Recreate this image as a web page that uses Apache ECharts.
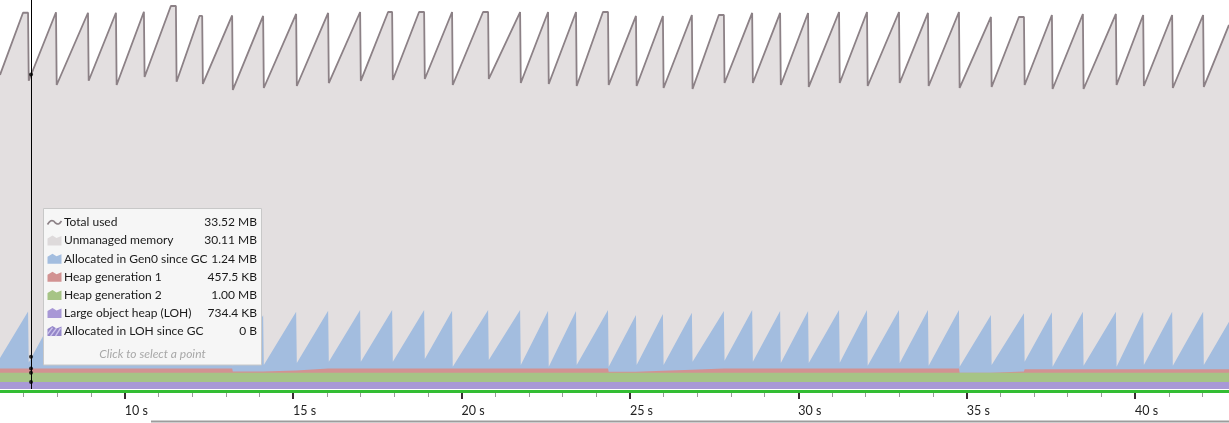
<!DOCTYPE html>
<html><head><meta charset="utf-8">
<script src="https://cdn.jsdelivr.net/npm/echarts@6/dist/echarts.min.js"></script>
<style>html,body{margin:0;padding:0;background:#fff;overflow:hidden}#c{width:1229px;height:423px}</style>
</head><body><div id="c"></div><script>
// ---- time range (seconds) ----
const T_MIN = 6.297, T_MAX = 42.788;
// ---- GC moments (s) : each sawtooth drop ----
const gcTimes = [7.13, 7.96, 8.91, 9.74, 10.57, 11.52, 12.30, 13.19, 14.11, 15.09,
  16.04, 16.99, 17.94, 18.89, 19.72, 20.79, 21.74, 22.57, 23.40, 24.35,
  25.18, 25.98, 26.84, 27.79, 28.63, 29.46, 30.29, 31.21, 32.04, 32.99,
  33.85, 34.77, 35.72, 36.70, 37.53, 38.45, 39.43, 40.24, 41.10, 42.02];
// ---- Total used (MB) ----
const totalStart = 33.48, totalEnd = 38.81;
const totalPeak = [40.11, 40.16, 40.11, 40.11, 40.22, 40.83, 39.77, 39.82, 39.77, 39.98,
  40.09, 40.19, 40.19, 40.19, 40.19, 40.19, 40.19, 40.19, 40.19, 40.19,
  39.77, 39.77, 39.87, 39.87, 40.09, 40.09, 40.09, 40.19, 40.19, 40.19,
  40.09, 40.19, 39.66, 39.66, 39.87, 39.98, 39.98, 39.87, 39.87, 39.87];
const totalValley = [32.86, 32.41, 32.86, 32.41, 33.26, 32.76, 32.52, 31.88, 32.09, 32.30,
  32.62, 32.84, 32.94, 33.05, 32.41, 33.05, 32.62, 32.52, 32.30, 32.41,
  32.30, 32.09, 31.98, 32.62, 32.62, 32.41, 32.20, 32.62, 32.30, 32.62,
  32.30, 32.09, 32.20, 32.41, 31.98, 31.98, 32.41, 32.30, 32.09, 32.20];
const plateau = [0.15, 0, 0, 0, 0, 0.15, 0.08, 0, 0, 0,
  0, 0, 0.12, 0.15, 0, 0.15, 0, 0, 0, 0.15,
  0, 0, 0, 0.15, 0, 0, 0, 0, 0, 0,
  0, 0, 0, 0.15, 0, 0, 0, 0, 0, 0];
// ---- Allocated in Gen0 since GC (MB): start, peak per cycle (41), valley after each GC (40) ----
const gen0Start = 1.12;
const gen0Peak = [6.06, 6.0, 6.1, 6.05, 6.15, 6.0, 6.1, 6.1, 6.0, 6.26,
  6.16, 6.24, 6.24, 6.24, 6.16, 6.24, 6.24, 6.16, 6.12, 6.24,
  6.06, 6.06, 6.08, 6.12, 6.23, 6.12, 6.12, 6.23, 6.23, 6.23,
  6.23, 6.23, 6.15, 6.19, 6.08, 6.14, 6.14, 6.14, 6.14, 6.14, 5.08];
const gen0Valley = [0.62, 0.6, 0.5, 0.7, 0.5, 0.6, 0.6, 0.6, 0.58, 0.59,
  0.72, 0.72, 0.72, 1.01, 0.19, 0.91, 0.37, 0.19, 0.37, 0.54,
  0.62, 0.5, 0.71, 0.82, 0.71, 0.58, 0.58, 0.6, 0.29, 0.54,
  0.29, 0.64, 0.68, 0.81, 0.28, 0.38, 0.28, 0.46, 0.38, 0.46];
// ---- Heap generation 1 per cycle (MB) ----
const gen1 = [0.46, 0.46, 0.46, 0.46, 0.46, 0.46, 0.46, 0.46, 0.14, 0.25,
  0.45, 0.45, 0.45, 0.45, 0.45, 0.45, 0.45, 0.45, 0.45, 0.45,
  0.1, 0.2, 0.32, 0.46, 0.46, 0.46, 0.46, 0.46, 0.46, 0.46,
  0.46, 0.46, 0, 0.14, 0.36, 0.36, 0.36, 0.36, 0.36, 0.36, 0.36];
const gen2 = 1.00;
const loh = 0.7344;
// ---- axis ticks ----
const minorTicks = [7, 8, 9, 10, 11, 12, 13, 14, 15, 16, 17, 18, 19, 20, 21, 22, 23, 24,
  25, 26, 27, 28, 29, 30, 31, 32, 33, 34, 35, 36, 37, 38, 39, 40, 41, 42];
const majorTicks = [10, 15, 20, 25, 30, 35, 40];
// ---- hover point ----
const cursorTime = 7.218;
const tipNames = ['Total used', 'Unmanaged memory', 'Allocated in Gen0 since GC', 'Heap generation 1',
  'Heap generation 2', 'Large object heap (LOH)', 'Allocated in LOH since GC'];
const tipValues = ['33.52 MB', '30.11 MB', '1.24 MB', '457.5 KB', '1.00 MB', '734.4 KB', '0 B'];
const cursorMB = [33.52, 30.11, 1.24, 0.4575, 1.00, 0.7344, 0];

const C = {
  total: '#8c8186', unmanaged: '#e3dfe0', gen0: '#a3bddf', gen1: '#d29292',
  gen2: '#a6c486', loh: '#a898d6'
};
const FONT = 'Lato, "Noto Sans", sans-serif';

// build total line
const totalData = [[T_MIN, totalStart]];
gcTimes.forEach((t, i) => {
  if (plateau[i] > 0) totalData.push([t - plateau[i], totalPeak[i]]);
  totalData.push([t, totalPeak[i]]);
  totalData.push([t + 0.02, totalValley[i]]);
});
totalData.push([T_MAX, totalEnd]);

// managed layers share a time table; cumulative tops of each layer
const times = [], g0 = [], g1 = [];
for (let k = 0; k <= gcTimes.length; k++) {
  const s = k === 0 ? T_MIN : gcTimes[k - 1] + 0.02;
  const e = k < gcTimes.length ? gcTimes[k] : T_MAX;
  times.push(s, e);
  g0.push(k === 0 ? gen0Start : gen0Valley[k - 1], gen0Peak[k]);
  g1.push(gen1[k], gen1[k]);
}
const topLoh = times.map(t => [t, loh]);
const topGen2 = times.map(t => [t, loh + gen2]);
const topGen1 = times.map((t, i) => [t, loh + gen2 + g1[i]]);
const topGen0 = times.map((t, i) => [t, loh + gen2 + g1[i] + g0[i]]);

function area(name, data, color) {
  return {
    name, type: 'line', data, showSymbol: false, symbol: 'none',
    lineStyle: { width: 0 }, areaStyle: { color, opacity: 1, origin: 'start' }, z: 3, silent: true
  };
}

// cursor markers (stack tops)
const s1 = cursorMB[5], s2 = s1 + cursorMB[4], s3 = s2 + cursorMB[3], s4 = s3 + cursorMB[2];
const markers = [[cursorTime, cursorMB[0]], [cursorTime, s1], [cursorTime, s2], [cursorTime, s3], [cursorTime, s4]];

// tooltip graphic
const Z = 100;
const BX = 43.5, BY = 208.5, BW = 218, BH = 156.5, ROW0 = 222.5, ROWH = 18.1;
const g = [{ type: 'rect', z: Z, shape: { x: BX, y: BY, width: BW, height: BH },
  style: { fill: '#f6f6f6', stroke: '#c8c8c8', lineWidth: 1 } }];
const areaIcon = [[0, 10], [0, 3], [5, 0], [9, 2.5], [14, 0.5], [14, 10]];
const iconColors = [null, '#dedadb', C.gen0, C.gen1, C.gen2, C.loh, null];
tipNames.forEach((n, i) => {
  const y = ROW0 + i * ROWH;
  if (i === 0) {
    g.push({ type: 'polyline', z: Z + 1, x: 47.5, y: y, shape: { points: [[0, 2], [3, -1.5], [6, -1.5], [8, 0.5], [11, 1.5], [14, -1.5]], smooth: 0.4 },
      style: { stroke: C.total, lineWidth: 1.6, fill: null } });
  } else if (i === 6) {
    g.push({ type: 'polygon', z: Z + 1, x: 47.5, y: y - 5, shape: { points: areaIcon }, style: { fill: '#9486c9' } });
    [[[0, 8], [5, 1.5]], [[3, 10], [9, 2]], [[8, 10], [13, 2]]].forEach(p => {
      g.push({ type: 'polyline', z: Z + 2, x: 47.5, y: y - 5, shape: { points: p }, style: { stroke: '#cdc5ec', lineWidth: 1.4, fill: null } });
    });
  } else {
    g.push({ type: 'polygon', z: Z + 1, x: 47.5, y: y - 5, shape: { points: areaIcon }, style: { fill: iconColors[i] } });
  }
  g.push({ type: 'text', z: Z + 1, x: 64, y: y, style: { text: n, font: '12px ' + FONT, fill: '#1a1a1a', align: 'left', verticalAlign: 'middle' } });
  g.push({ type: 'text', z: Z + 1, x: 257, y: y, style: { text: tipValues[i], font: '12px ' + FONT, fill: '#1a1a1a', align: 'right', verticalAlign: 'middle' } });
});
g.push({ type: 'text', z: Z + 1, x: 152.5, y: 354, style: { text: 'Click to select a point', font: 'italic 12px ' + FONT, fill: '#a8a8a8', align: 'center', verticalAlign: 'middle' } });
g.push({ type: 'rect', z: Z, shape: { x: 151, y: 420.5, width: 1078, height: 2 }, style: { fill: '#9c9c9c' } });

const baseX = { type: 'value', position: 'bottom', min: T_MIN, max: T_MAX, splitLine: { show: false } };
const chart = echarts.init(document.getElementById('c'), null, { renderer: 'canvas' });
chart.setOption({
  animation: false,
  backgroundColor: '#fff',
  grid: { left: 0, right: 0, top: 0, bottom: 34, containLabel: false },
  xAxis: [
    Object.assign({}, baseX, { offset: 2, axisLine: { show: true, onZero: false, lineStyle: { color: '#33bd33', width: 3, type: [1, 1] } },
      axisTick: { show: false }, axisLabel: { show: false } }),
    Object.assign({}, baseX, { offset: 4, axisLine: { show: false, onZero: false },
      axisTick: { show: true, length: 4, customValues: minorTicks, lineStyle: { color: '#9a9a9a', width: 1 } }, axisLabel: { show: false } }),
    Object.assign({}, baseX, { offset: 4, axisLine: { show: false, onZero: false },
      axisTick: { show: true, length: 6, customValues: majorTicks, lineStyle: { color: '#3a2c33', width: 2 } },
      axisLabel: { show: true, customValues: majorTicks, formatter: v => v + ' s', align: 'left', margin: 11,
        fontSize: 12.5, fontFamily: FONT, color: '#222' } })
  ],
  yAxis: { type: 'value', min: 0, max: 41.47, show: false, splitLine: { show: false } },
  series: [
    { name: 'Total used', type: 'line', data: totalData, showSymbol: false, symbol: 'none', z: 1,
      lineStyle: { color: C.total, width: 1.8 }, areaStyle: { color: C.unmanaged, opacity: 1, origin: 'start' }, silent: true },
    area('Allocated in Gen0 since GC', topGen0, C.gen0),
    area('Heap generation 1', topGen1, C.gen1),
    area('Heap generation 2', topGen2, C.gen2),
    area('Large object heap (LOH)', topLoh, C.loh),
    { name: 'cursor', type: 'scatter', data: markers, symbol: 'circle', symbolSize: 4, z: 10,
      itemStyle: { color: '#000' }, silent: true,
      markLine: { silent: true, symbol: ['none', 'none'], label: { show: false },
        lineStyle: { color: '#000', width: 1, type: 'solid' }, data: [{ xAxis: cursorTime }] } }
  ],
  graphic: g
});
</script></body></html>
